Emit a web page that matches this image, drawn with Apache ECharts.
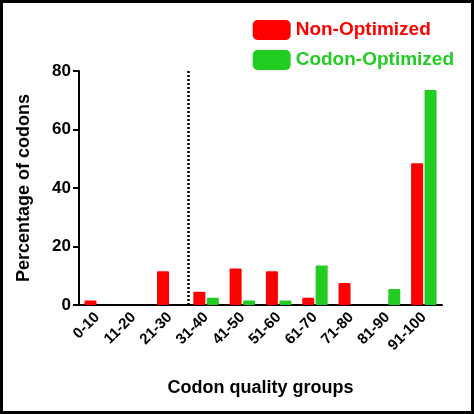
<!DOCTYPE html>
<html>
<head>
<meta charset="utf-8">
<script src="https://cdn.jsdelivr.net/npm/echarts@6/dist/echarts.min.js"></script>
<style>
html, body { margin: 0; padding: 0; background: #fff; }
#chart { width: 468px; height: 408px; border: 3px solid #000; }
</style>
</head>
<body>
<div id="chart"></div>
<script>
// 数据
var categories = ['0-10', '11-20', '21-30', '31-40', '41-50', '51-60', '61-70', '71-80', '81-90', '91-100'];
var nonOptimized = [1.5, 0, 11.5, 4.5, 12.5, 11.5, 2.5, 7.5, 0, 48.5];
var codonOptimized = [0, 0, 0, 2.5, 1.5, 1.5, 13.5, 0, 5.5, 73.5];
var yTicks = [0, 20, 40, 60, 80];
var dividerAt = 3;

var font = 'Liberation Sans, Arial, sans-serif';
var chart = echarts.init(document.getElementById('chart'));

chart.setOption({
	animation: false,
	legend: {
		orient: 'vertical',
		right: 12,
		top: 12,
		itemWidth: 38,
		itemHeight: 20,
		itemGap: 10,
		textStyle: { fontFamily: font, fontWeight: 'bold', fontSize: 19 },
		data: [
			{ name: 'Non-Optimized', textStyle: { color: '#ff0000' } },
			{ name: 'Codon-Optimized', textStyle: { color: '#22cc22' } }
		]
	},
	grid: { left: 76, right: 29, top: 68, bottom: 106 },
	xAxis: [{
		type: 'category',
		data: categories,
		name: 'Codon quality groups',
		nameLocation: 'middle',
		nameGap: 74,
		nameTextStyle: { fontFamily: font, fontWeight: 'bold', fontSize: 18, color: '#000' },
		axisLine: { lineStyle: { color: '#000', width: 2 } },
		axisTick: { alignWithLabel: true, length: 6, lineStyle: { width: 2, color: '#000' } },
		axisLabel: { rotate: 45, fontFamily: font, fontWeight: 'bold', fontSize: 15, color: '#000', margin: 10 }
	}, {
		type: 'value', min: 0, max: categories.length, show: false
	}],
	yAxis: {
		type: 'value',
		min: yTicks[0],
		max: yTicks[yTicks.length - 1],
		interval: 20,
		name: 'Percentage of codons',
		nameLocation: 'middle',
		nameGap: 46,
		nameTextStyle: { fontFamily: font, fontWeight: 'bold', fontSize: 18, color: '#000' },
		axisLine: { show: true, lineStyle: { color: '#000', width: 2 } },
		axisTick: { show: true, length: 6, lineStyle: { width: 2, color: '#000' } },
		axisLabel: { fontFamily: font, fontWeight: 'bold', fontSize: 17, color: '#000' },
		splitLine: { show: false }
	},
	series: [{
		name: 'Non-Optimized',
		type: 'bar',
		data: nonOptimized,
		barWidth: 12,
		barGap: '12%',
		itemStyle: { color: '#ff0000', borderRadius: 1 }
	}, {
		name: 'Codon-Optimized',
		type: 'bar',
		data: codonOptimized,
		barWidth: 12,
		itemStyle: { color: '#22cc22', borderRadius: 1 }
	}, {
		name: 'divider',
		type: 'line',
		xAxisIndex: 1,
		data: [],
		markLine: {
			symbol: 'none',
			silent: true,
			label: { show: false },
			lineStyle: { color: '#000', type: [2, 2], width: 2.5 },
			data: [{ xAxis: dividerAt }]
		}
	}]
});
</script>
</body>
</html>
